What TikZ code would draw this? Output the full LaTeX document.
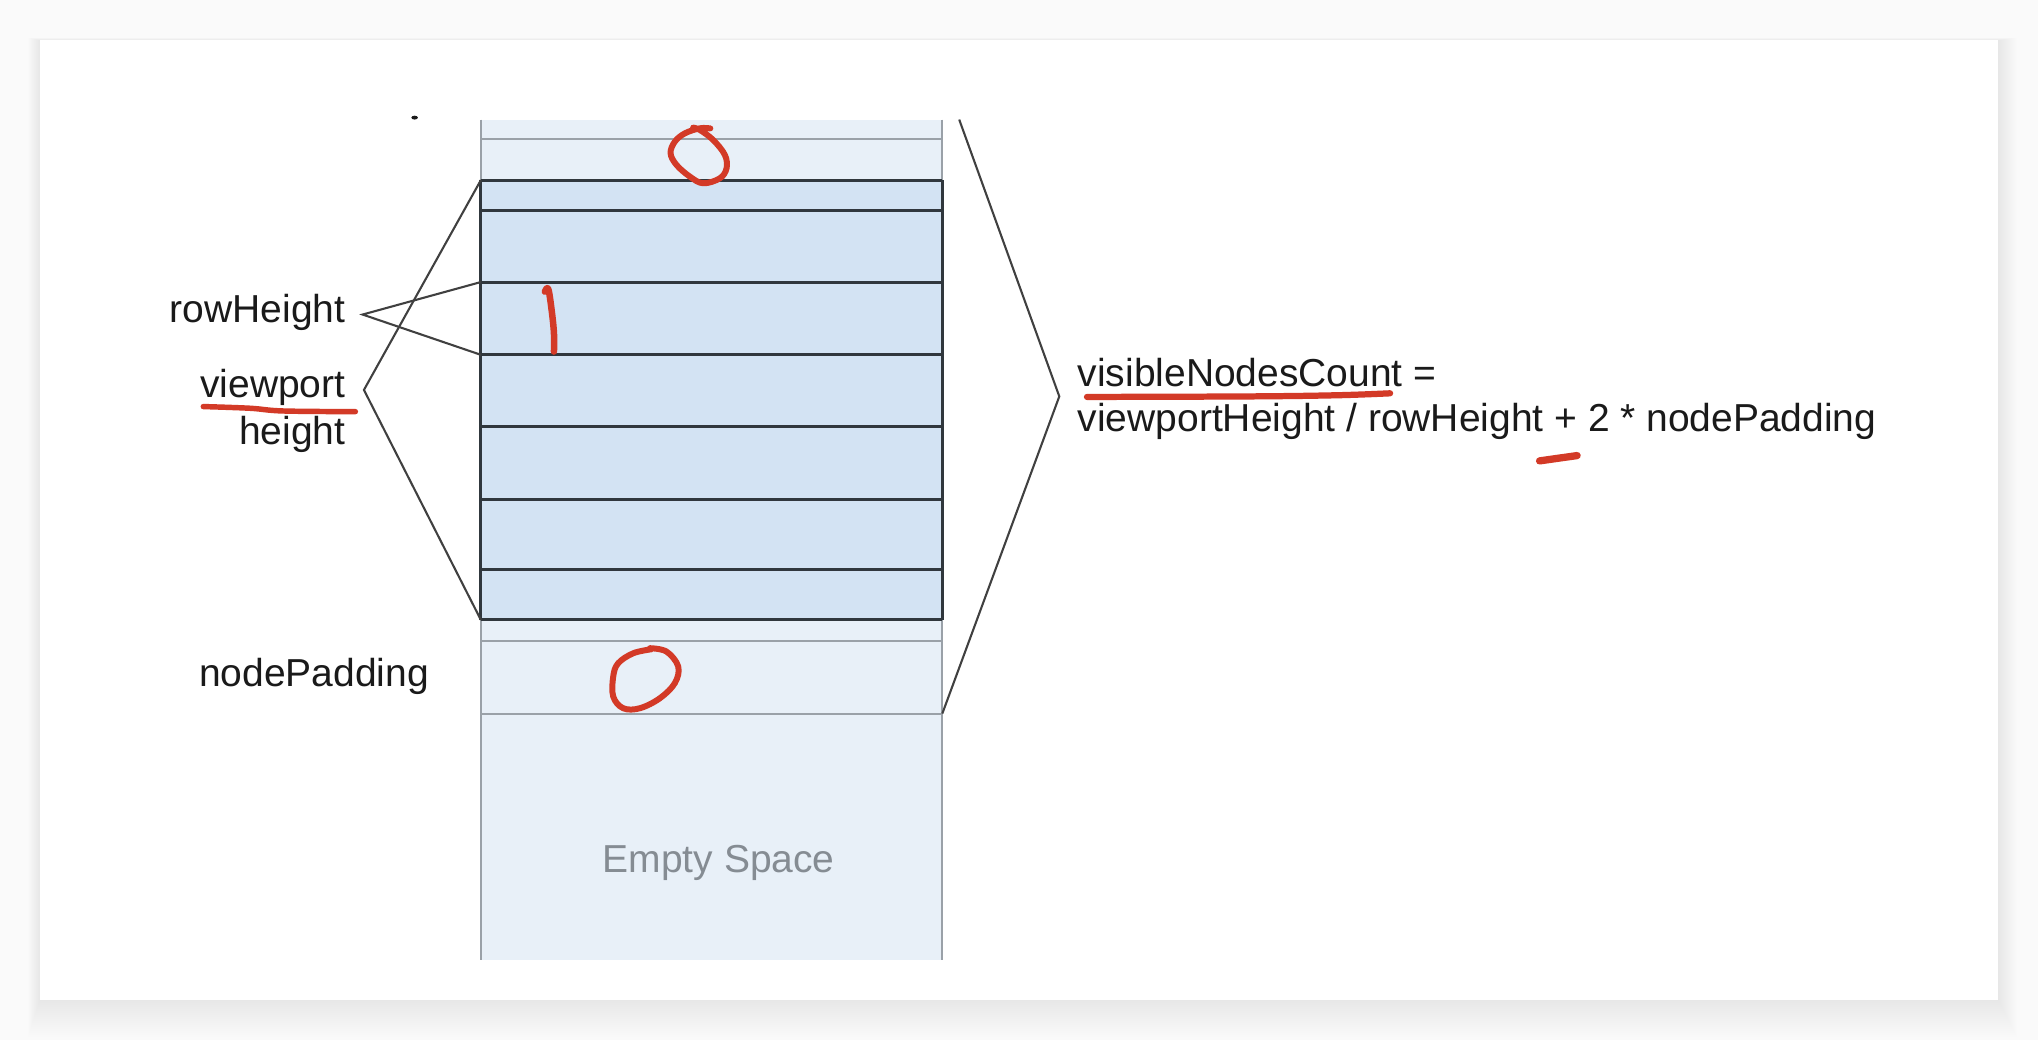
\documentclass[tikz,border=0pt]{standalone}
\usepackage{fontspec}
\setmainfont{Liberation Sans}
\definecolor{rowlight}{HTML}{E8F0F8}
\definecolor{rowdark}{HTML}{D3E3F3}
\definecolor{grayline}{HTML}{9AA1A8}
\definecolor{darkline}{HTML}{30373D}
\definecolor{bracketc}{HTML}{404040}
\definecolor{redpen}{HTML}{D33A27}
\definecolor{emptytext}{HTML}{858C93}
\definecolor{bgc}{HTML}{FAFAFA}
\definecolor{txt}{HTML}{1A1A1A}
\begin{document}
\begin{tikzpicture}[x=1pt,y=-1pt,
  lbl/.style={font=\fontsize{30}{36}\selectfont, text=txt, inner sep=0pt},
  row/.style={minimum width=355pt, inner sep=0pt, outer sep=0pt, anchor=north west, draw=none},
  gline/.style={draw=grayline, line width=1.6pt},
  dline/.style={draw=darkline, line width=2.3pt},
  bracket/.style={draw=bracketc, line width=1.6pt, line join=miter},
  redmark/.style={draw=redpen, line width=4.6pt, line cap=round, line join=round},
]
\useasboundingbox (0,0) rectangle (1568,800);
\fill[bgc] (0,0) rectangle (1568,800);
% card shadow
\foreach \i in {0,...,19} {\fill[black,opacity=0.005] (31-\i*0.5,31-\i*0.1) rectangle (1537+\i*0.8,769+\i*1.5);}
\fill[white] (31,31) rectangle (1537,769);

% rows
\node[row, fill=rowlight, minimum height=15pt]   (L0) at (370,92) {};
\node[row, fill=rowlight, minimum height=31.5pt] (L1) at (370,107) {};
\node[row, fill=rowdark,  minimum height=23.5pt] (D0) at (370,138.5) {};
\node[row, fill=rowdark,  minimum height=55pt]   (D1) at (370,162) {};
\node[row, fill=rowdark,  minimum height=56pt]   (D2) at (370,217) {};
\node[row, fill=rowdark,  minimum height=55pt]   (D3) at (370,273) {};
\node[row, fill=rowdark,  minimum height=56pt]   (D4) at (370,328) {};
\node[row, fill=rowdark,  minimum height=54.5pt] (D5) at (370,384) {};
\node[row, fill=rowdark,  minimum height=38.5pt] (D6) at (370,438.5) {};
\node[row, fill=rowlight, minimum height=16pt]   (L2) at (370,477) {};
\node[row, fill=rowlight, minimum height=56pt]   (L3) at (370,493) {};
\node[row, fill=rowlight, minimum height=189.5pt] (E) at (370,549) {};
\node[font=\fontsize{30}{36}\selectfont, text=emptytext, inner sep=0pt, anchor=base] (es) at (553,671.5) {Empty Space};

% light borders
\draw[gline] (L0.north west) -- (E.south west);
\draw[gline] (L0.north east) -- (E.south east);
\draw[gline] (L0.south west) -- (L0.south east);
\draw[gline] (L2.south west) -- (L2.south east);
\draw[gline] (L3.south west) -- (L3.south east);
% dark borders
\draw[dline] (D0.north west) -- (D6.south west);
\draw[dline] (D0.north east) -- (D6.south east);
\foreach \r in {D0,D1,D2,D3,D4,D5,D6} {\draw[dline] (\r.south west) -- (\r.south east);}
\draw[dline] (D0.north west) -- (D0.north east);

% brackets
\coordinate (rhA) at (279,242);
\coordinate (vpA) at (280,300);
\coordinate (rA) at (815,305);
\coordinate (rT) at (738,92);
\draw[bracket] (D2.north west) -- (rhA) -- (D2.south west);
\draw[bracket] (D0.north west) -- (vpA) -- (D6.south west);
\draw[bracket] (rT) -- (rA) -- (L3.south east);

% labels
\node[lbl, anchor=base east] (rh) at (266,248.5) {rowHeight};
\node[lbl, anchor=base east] (vp1) at (266,306) {viewport};
\node[lbl, anchor=base east] (vp2) at (266,342) {height};
\node[lbl, anchor=base west] (np) at (153,528) {nodePadding};
\node[lbl, anchor=base west] (f1) at (829,297.5) {visibleNodesCount =};
\node[lbl, anchor=base west] (f2) at (829,332) {viewportHeight / rowHeight + 2 * nodePadding};

% cropped fragment at top
\fill[txt] (319,90.5) ellipse (2.5 and 1.5);

% red pen annotations
\draw[redmark] plot[smooth, tension=0.6] coordinates {(533.3,98.2) (538.5,100) (548.7,107.7) (557.7,119.2) (559,129.5) (553.8,137.2) (541,141) (530.8,135.9) (520.5,126.9) (515.9,117.9) (519.2,109) (526.9,102.6) (538.5,98.7) (546.5,98.8)};
\draw[redmark] plot[smooth, tension=0.6] coordinates {(500,498.7) (512.8,501.3) (521.8,512.8) (519.2,525.6) (507.7,537.2) (492.3,544.9) (479.5,544.9) (471.8,535.9) (471.8,520.5) (475.6,510.3) (487.2,502.6) (501.3,499.5)};
\draw[redmark, line width=5pt] plot[smooth, tension=0.6] coordinates {(419.2,224.4) (421.8,222.3) (424.4,238.5) (426.2,256.4) (426.2,270.5)};
\draw[redmark, line width=4.2pt] plot[smooth, tension=0.6] coordinates {(156.4,312.8) (192.3,314.1) (217.9,316.2) (273.4,316.7)};
\draw[redmark, line width=4.8pt] plot[smooth, tension=0.6] coordinates {(836.3,305.4) (960,305) (1028.5,304.1) (1069.5,302.6)};
\draw[redmark, line width=5.6pt] (1184.5,354.6) -- (1213.4,350.5);
\end{tikzpicture}
\end{document}
